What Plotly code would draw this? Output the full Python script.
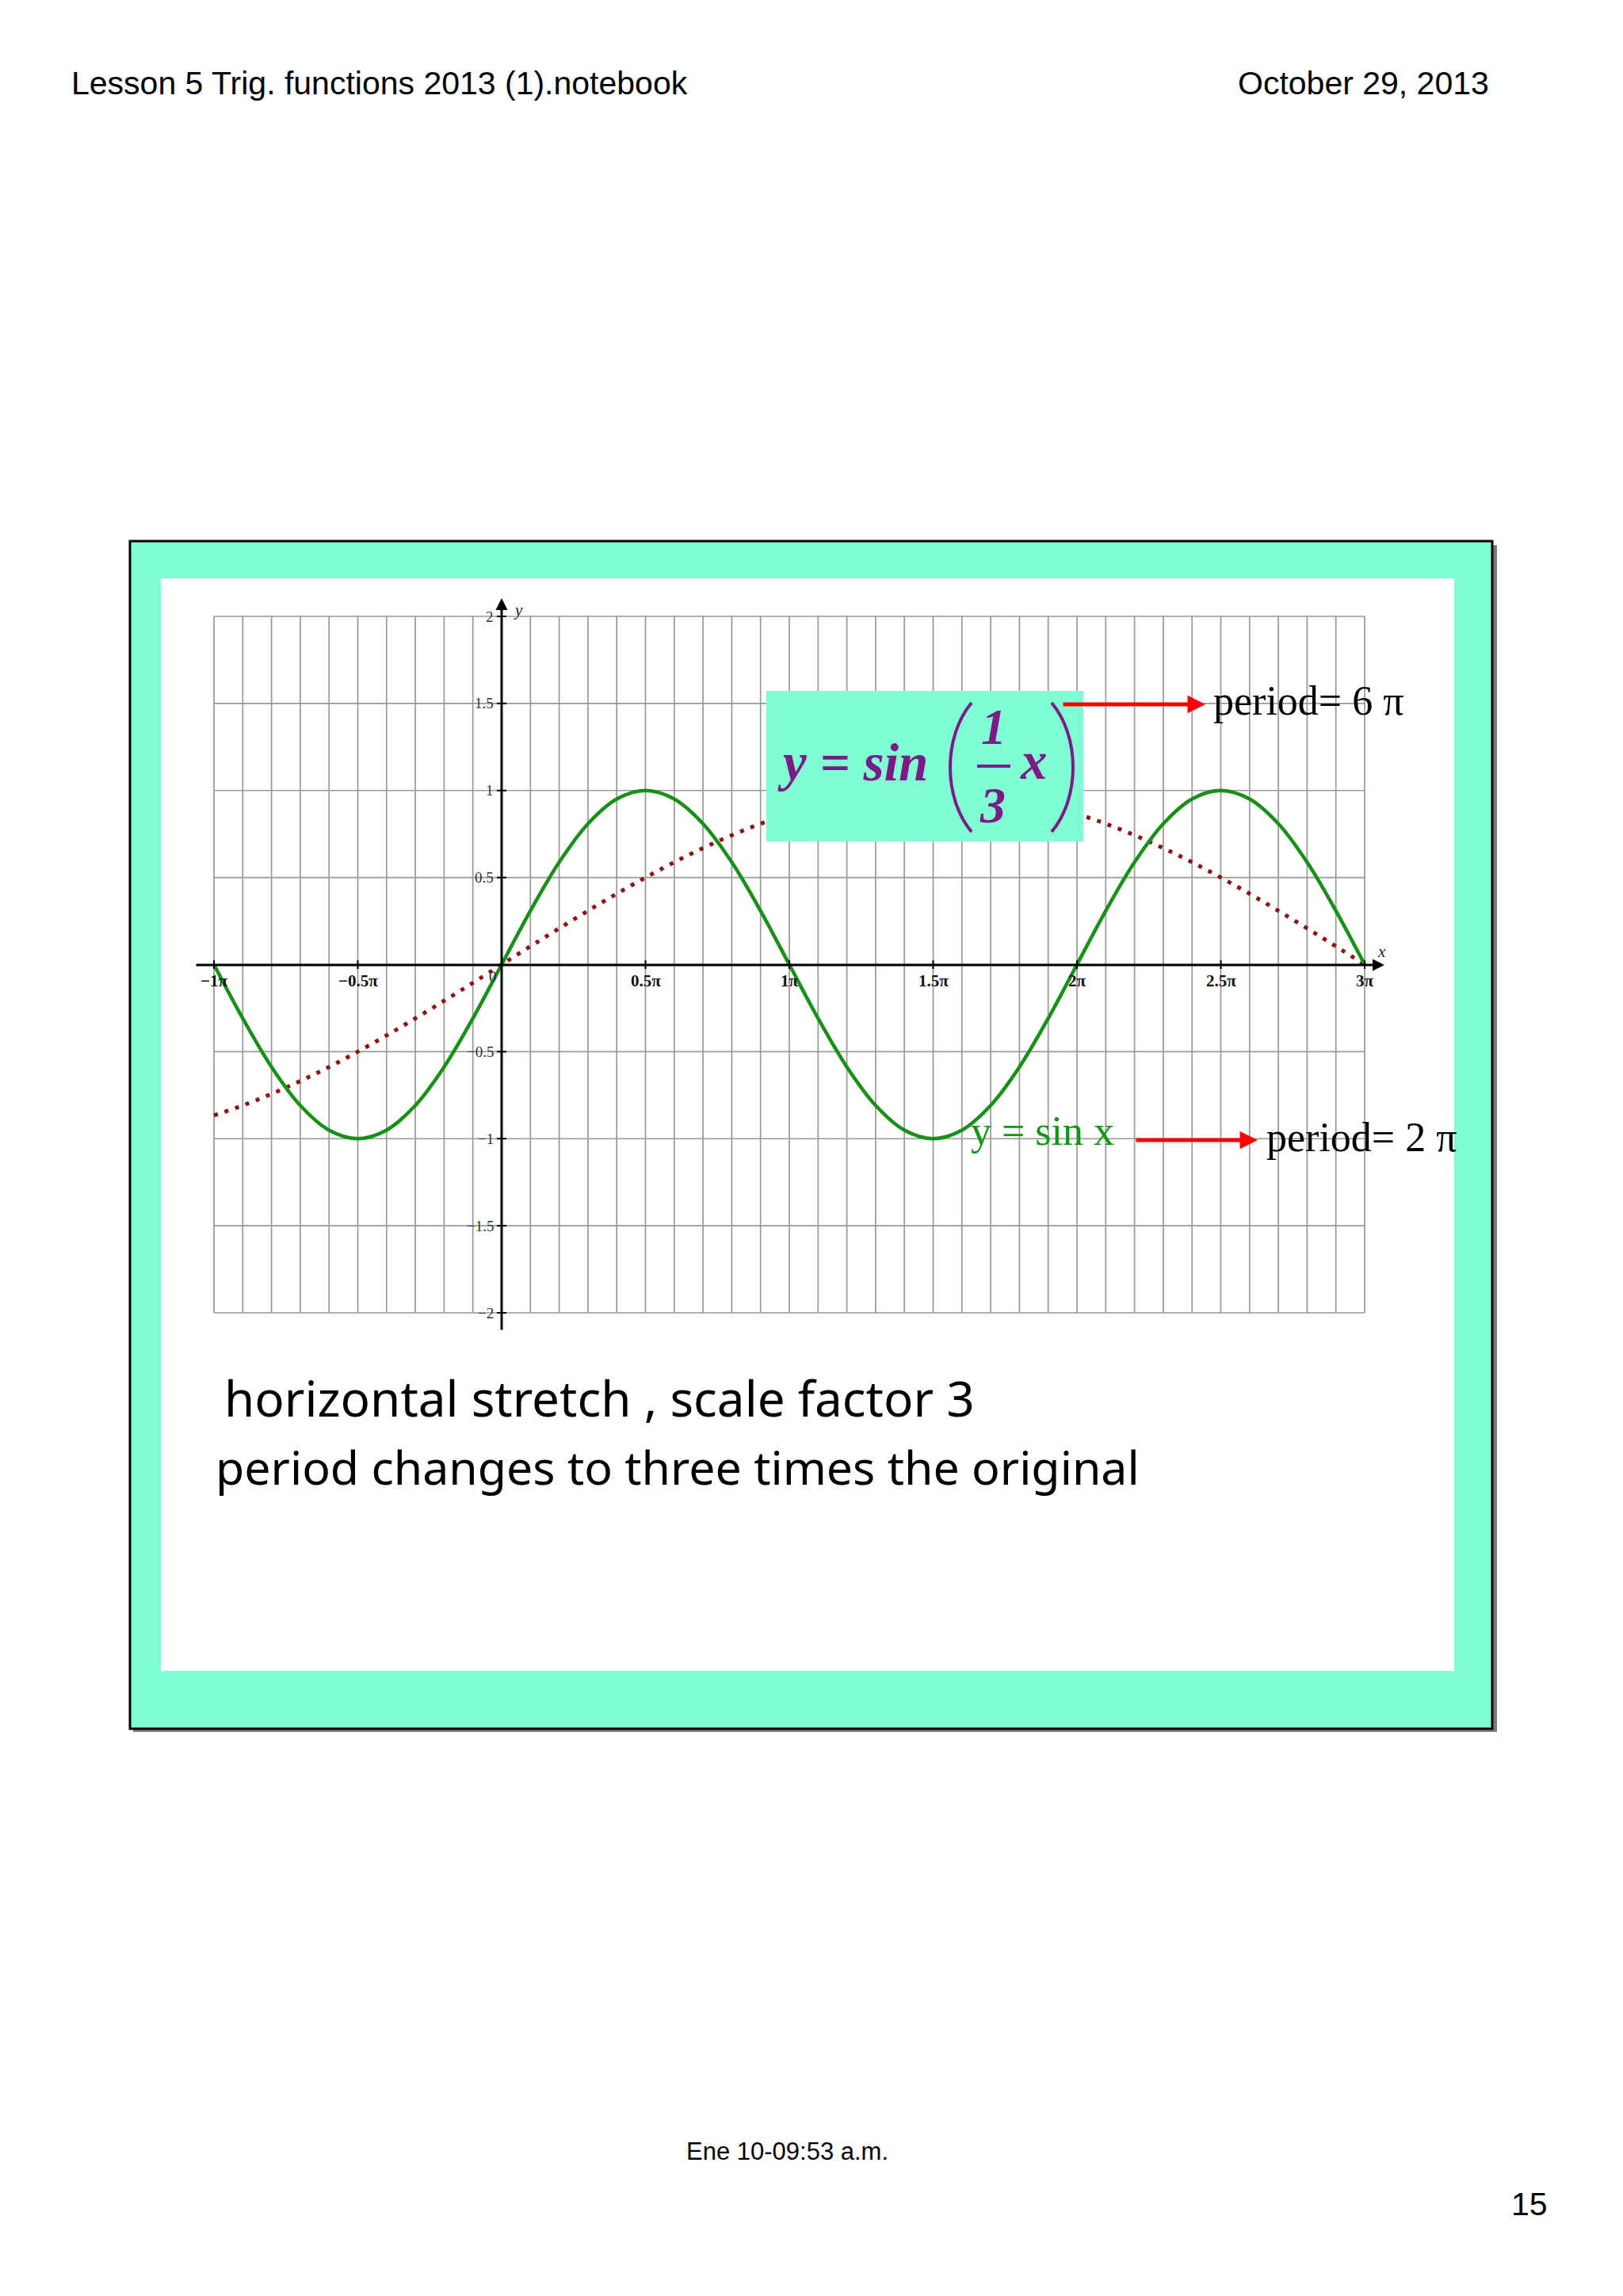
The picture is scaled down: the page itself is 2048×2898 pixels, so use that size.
import plotly.graph_objects as go

# page is 2048x2898; the html body has an 8px margin, so the figure is drawn 8px in
PAGE_W, PAGE_H = 2048, 2898
OFF = 8
W, H = PAGE_W - OFF, PAGE_H - OFF

# ---------------- data (x in multiples of pi) ----------------
x_pi = [-1.0, -0.9, -0.8, -0.7, -0.6, -0.5, -0.4, -0.3, -0.2, -0.1,
        0.0, 0.1, 0.2, 0.3, 0.4, 0.5, 0.6, 0.7, 0.8, 0.9,
        1.0, 1.1, 1.2, 1.3, 1.4, 1.5, 1.6, 1.7, 1.8, 1.9,
        2.0, 2.1, 2.2, 2.3, 2.4, 2.5, 2.6, 2.7, 2.8, 2.9, 3.0]

sin_x = [0.0, -0.309, -0.588, -0.809, -0.951, -1.0, -0.951, -0.809, -0.588, -0.309,
         0.0, 0.309, 0.588, 0.809, 0.951, 1.0, 0.951, 0.809, 0.588, 0.309,
         0.0, -0.309, -0.588, -0.809, -0.951, -1.0, -0.951, -0.809, -0.588, -0.309,
         0.0, 0.309, 0.588, 0.809, 0.951, 1.0, 0.951, 0.809, 0.588, 0.309, 0.0]

sin_x_third = [-0.866, -0.809, -0.743, -0.669, -0.588, -0.5, -0.407, -0.309, -0.208, -0.105,
               0.0, 0.105, 0.208, 0.309, 0.407, 0.5, 0.588, 0.669, 0.743, 0.809,
               0.866, 0.914, 0.951, 0.978, 0.995, 1.0, 0.995, 0.978, 0.951, 0.914,
               0.866, 0.809, 0.743, 0.669, 0.588, 0.5, 0.407, 0.309, 0.208, 0.105, 0.0]

x_tick_vals = [-1, -0.5, 0.5, 1, 1.5, 2, 2.5, 3]
x_tick_text = ["\u22121\u03c0", "\u22120.5\u03c0", "0.5\u03c0", "1\u03c0", "1.5\u03c0", "2\u03c0", "2.5\u03c0", "3\u03c0"]
y_tick_vals = [2, 1.5, 1, 0.5, -0.5, -1, -1.5, -2]
y_tick_text = ["2", "1.5", "1", "0.5", "\u22120.5", "\u22121", "\u22121.5", "\u22122"]

grid_x = [round(-1 + 0.1 * i, 2) for i in range(41)]
grid_y = [-2, -1.5, -1, -0.5, 0, 0.5, 1, 1.5, 2]

# ---------------- page-pixel -> data helpers ----------------
X0_PX, PX_PER_PI = 633.0, 363.0
Y0_PX, PX_PER_UNIT = 1217.5, 219.75


def dx(px):
    return (px - X0_PX) / PX_PER_PI


def dy(py):
    return (Y0_PX - py) / PX_PER_UNIT


SERIF = "Liberation Serif, Times New Roman, serif"
SANS = "Liberation Sans, Arial, sans-serif"
AQUA = "#80FFD4"
PURPLE = "#7D1A85"

fig = go.Figure()
fig.add_trace(go.Scatter(x=x_pi, y=sin_x_third, mode="lines",
                         line=dict(color="#8E1212", width=5, dash="5px,9px", shape="spline"),
                         hoverinfo="skip", showlegend=False))
fig.add_trace(go.Scatter(x=x_pi, y=sin_x, mode="lines",
                         line=dict(color="#169116", width=4.5, shape="spline"),
                         hoverinfo="skip", showlegend=False))

shapes = []
# frame: shadow, aqua with black border, white inner
shapes.append(dict(type="rect", xref="x", yref="y", x0=dx(168), x1=dx(1889), y0=dy(688), y1=dy(2186),
                   fillcolor="#7a7a7a", line=dict(width=0), layer="below"))
shapes.append(dict(type="rect", xref="x", yref="y", x0=dx(164), x1=dx(1883), y0=dy(683), y1=dy(2182),
                   fillcolor=AQUA, line=dict(color="black", width=3), layer="below"))
shapes.append(dict(type="rect", xref="x", yref="y", x0=dx(203), x1=dx(1835), y0=dy(730), y1=dy(2109),
                   fillcolor="white", line=dict(width=0), layer="below"))
# grid
for gx in grid_x:
    shapes.append(dict(type="line", xref="x", yref="y", x0=gx, x1=gx, y0=-2, y1=2,
                       line=dict(color="#999999", width=1.7), layer="below"))
for gy in grid_y:
    shapes.append(dict(type="line", xref="x", yref="y", x0=-1, x1=3, y0=gy, y1=gy,
                       line=dict(color="#999999", width=1.7), layer="below"))
# ticks on axes
for tv in x_tick_vals:
    shapes.append(dict(type="line", xref="x", yref="y", x0=tv, x1=tv, y0=dy(1212), y1=dy(1223),
                       line=dict(color="black", width=2)))
for tv in y_tick_vals:
    shapes.append(dict(type="line", xref="x", yref="y", x0=dx(627), x1=dx(639), y0=tv, y1=tv,
                       line=dict(color="black", width=2)))
# formula box
shapes.append(dict(type="rect", xref="x", yref="y", x0=dx(967), x1=dx(1367), y0=dy(872), y1=dy(1062),
                   fillcolor=AQUA, line=dict(width=0), layer="above"))


def P(px, py):
    return f"{dx(px):.5f},{dy(py):.5f}"


shapes.append(dict(type="path", xref="x", yref="y", layer="above",
                   path=f"M {P(1226, 887)} C {P(1190, 930)} {P(1190, 1007)} {P(1226, 1050)}",
                   line=dict(color=PURPLE, width=4)))
shapes.append(dict(type="path", xref="x", yref="y", layer="above",
                   path=f"M {P(1327, 887)} C {P(1363, 930)} {P(1363, 1007)} {P(1327, 1050)}",
                   line=dict(color=PURPLE, width=4)))
shapes.append(dict(type="line", xref="x", yref="y", x0=dx(1233), x1=dx(1275), y0=dy(967), y1=dy(967),
                   line=dict(color=PURPLE, width=4), layer="above"))

ann = []


def txt(px, py, text, size, color="black", family=SERIF, xanchor="left", yanchor="middle"):
    ann.append(dict(x=dx(px), y=dy(py), xref="x", yref="y", text=text, showarrow=False,
                    xanchor=xanchor, yanchor=yanchor, borderpad=0,
                    font=dict(family=family, size=size, color=color)))


def arrow(x_tail, x_tip, y_tail, y_tip, color, width, size):
    ann.append(dict(x=dx(x_tip), y=dy(y_tip), ax=dx(x_tail), ay=dy(y_tail),
                    xref="x", yref="y", axref="x", ayref="y", text="", showarrow=True,
                    arrowhead=2, arrowsize=size, arrowwidth=width, arrowcolor=color,
                    standoff=0, startstandoff=0))


# axes with arrowheads
arrow(246, 1747, 1218, 1218, "black", 3, 1.0)
arrow(633, 633, 1680, 755, "black", 3, 1.0)

# tick labels
for tv, tt in zip(x_tick_vals, x_tick_text):
    ann.append(dict(x=tv, y=dy(1238), xref="x", yref="y", text=f"<b>{tt}</b>", showarrow=False,
                    xanchor="center", yanchor="middle", borderpad=0,
                    font=dict(family=SERIF, size=21, color="#111111")))
for tv, tt in zip(y_tick_vals, y_tick_text):
    ann.append(dict(x=dx(624), y=tv, xref="x", yref="y", text=tt, showarrow=False,
                    xanchor="right", yanchor="middle", borderpad=0,
                    font=dict(family=SERIF, size=19, color="#333333")))
txt(622, 1232, "0", 19, "#333333", xanchor="center")
txt(654, 770, "<i>y</i>", 21, "#222222", xanchor="center")
txt(1743, 1201, "<i>x</i>", 21, "#222222", xanchor="center")

# formula
txt(980, 962, "<b><i>y = sin</i></b>", 67, PURPLE)
txt(1254, 917, "<b><i>1</i></b>", 64, PURPLE, xanchor="center")
txt(1252, 1016, "<b><i>3</i></b>", 64, PURPLE, xanchor="center")
txt(1286, 960, "<b><i>x</i></b>", 67, PURPLE)

# period notes
arrow(1340, 1521, 889, 889, "#FF0000", 5, 0.9)
txt(1530, 884, "period= 6 \u03c0", 52, "black")
txt(1224, 1427, "y = sin x", 52, "#129612")
arrow(1432, 1587, 1439, 1439, "#FF0000", 5, 0.9)
txt(1597, 1435, "period= 2 \u03c0", 52, "black")

# body text
BODY = "Comic Sans MS, Noto Sans, sans-serif"
txt(282, 1764, "horizontal stretch , scale factor 3", 62, "black", family=BODY)
txt(271, 1851, "period changes to three times the original", 59, "black", family=BODY)

# page header / footer
txt(89, 105, "Lesson 5 Trig. functions 2013 (1).notebook", 41, "black", family=SANS)
txt(1880, 105, "October 29, 2013", 41, "black", family=SANS, xanchor="right")
txt(993, 2715, "Ene 10-09:53 a.m.", 31, "black", family=SANS, xanchor="center")
txt(1954, 2782, "15", 41, "black", family=SANS, xanchor="right")

fig.update_layout(
    width=W, height=H, autosize=False,
    margin=dict(l=0, r=0, t=0, b=0, pad=0),
    paper_bgcolor="white", plot_bgcolor="white",
    xaxis=dict(range=[dx(OFF), dx(OFF + W)], visible=False, fixedrange=True, showgrid=False, zeroline=False),
    yaxis=dict(range=[dy(OFF + H), dy(OFF)], visible=False, fixedrange=True, showgrid=False, zeroline=False),
    shapes=shapes, annotations=ann, showlegend=False, hovermode=False,
)

fig.write_html("out.html")
